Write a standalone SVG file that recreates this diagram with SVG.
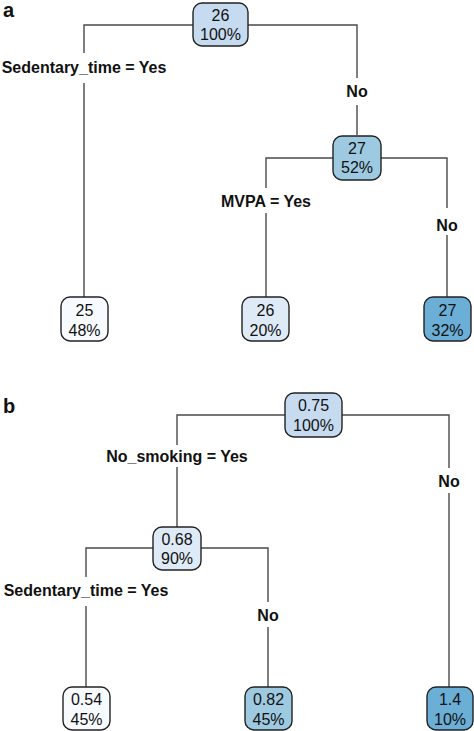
<svg xmlns="http://www.w3.org/2000/svg" width="474" height="731" viewBox="0 0 474 731">
<style>
.edge{fill:none;stroke:#4a4a4a;stroke-width:1.4}
.box{stroke:#222;stroke-width:1.4}
.nt{font-family:"Liberation Sans",Arial,sans-serif;font-size:16px;fill:#111;text-anchor:middle}
.lbl{font-family:"Liberation Sans",Arial,sans-serif;font-size:16px;font-weight:bold;fill:#111;text-anchor:middle}
.pl{font-family:"Liberation Sans",Arial,sans-serif;font-size:20px;font-weight:bold;fill:#111}
.c0{fill:#f7fbff}.c1{fill:#deebf7}.c2{fill:#c6dbef}.c3{fill:#9ecae1}.c4{fill:#6baed6}
</style>
<rect width="474" height="731" fill="#fff"/>
<text class="pl" x="3" y="17">a</text>
<text class="pl" x="3" y="413">b</text>
<g id="connectors">
<path class="edge" d="M193,25 H84 V53 M84,83 V297"/>
<path class="edge" d="M248,25 H357 V78 M357,105 V135"/>
<path class="edge" d="M333,158 H266 V188 M266,213 V297"/>
<path class="edge" d="M381,158 H447 V208 M447,235 V297"/>
<path class="edge" d="M285,415 H177 V445 M177,467 V527"/>
<path class="edge" d="M342,415 H449 V468 M449,493 V687"/>
<path class="edge" d="M153,548 H86 V577 M86,606 V687"/>
<path class="edge" d="M201,548 H268 V602 M268,627 V687"/>
</g>
<g id="labels">
<text class="lbl" x="84" y="73">Sedentary_time = Yes</text>
<text class="lbl" x="357" y="97">No</text>
<text class="lbl" x="266" y="207">MVPA = Yes</text>
<text class="lbl" x="447" y="231">No</text>
<text class="lbl" x="177" y="462">No_smoking = Yes</text>
<text class="lbl" x="449" y="487">No</text>
<text class="lbl" x="86" y="596">Sedentary_time = Yes</text>
<text class="lbl" x="268" y="621">No</text>
</g>
<g id="a_root"><rect class="box c2" x="193" y="3" width="55" height="43" rx="9"/><text class="nt" x="220.5" y="21">26</text><text class="nt" x="220.5" y="40">100%</text></g>
<g id="a_n2"><rect class="box c3" x="333" y="136" width="48" height="44" rx="9"/><text class="nt" x="357" y="154">27</text><text class="nt" x="357" y="173">52%</text></g>
<g id="a_leaf1"><rect class="box c0" x="61" y="297" width="47" height="44" rx="9"/><text class="nt" x="84.5" y="316">25</text><text class="nt" x="84.5" y="336">48%</text></g>
<g id="a_leaf2"><rect class="box c1" x="242" y="297" width="47" height="44" rx="9"/><text class="nt" x="265.5" y="316">26</text><text class="nt" x="265.5" y="336">20%</text></g>
<g id="a_leaf3"><rect class="box c4" x="424" y="297" width="47" height="44" rx="9"/><text class="nt" x="447.5" y="316">27</text><text class="nt" x="447.5" y="336">32%</text></g>
<g id="b_root"><rect class="box c2" x="285" y="393" width="57" height="44" rx="9"/><text class="nt" x="313.5" y="411">0.75</text><text class="nt" x="313.5" y="431">100%</text></g>
<g id="b_n2"><rect class="box c1" x="153" y="527" width="48" height="43" rx="9"/><text class="nt" x="177" y="545">0.68</text><text class="nt" x="177" y="564">90%</text></g>
<g id="b_leaf1"><rect class="box c0" x="63" y="687" width="47" height="43" rx="9"/><text class="nt" x="86.5" y="705">0.54</text><text class="nt" x="86.5" y="725">45%</text></g>
<g id="b_leaf2"><rect class="box c3" x="245" y="687" width="47" height="43" rx="9"/><text class="nt" x="268.5" y="705">0.82</text><text class="nt" x="268.5" y="725">45%</text></g>
<g id="b_leaf3"><rect class="box c4" x="427" y="687" width="46" height="43" rx="9"/><text class="nt" x="450" y="705">1.4</text><text class="nt" x="450" y="725">10%</text></g>
</svg>
